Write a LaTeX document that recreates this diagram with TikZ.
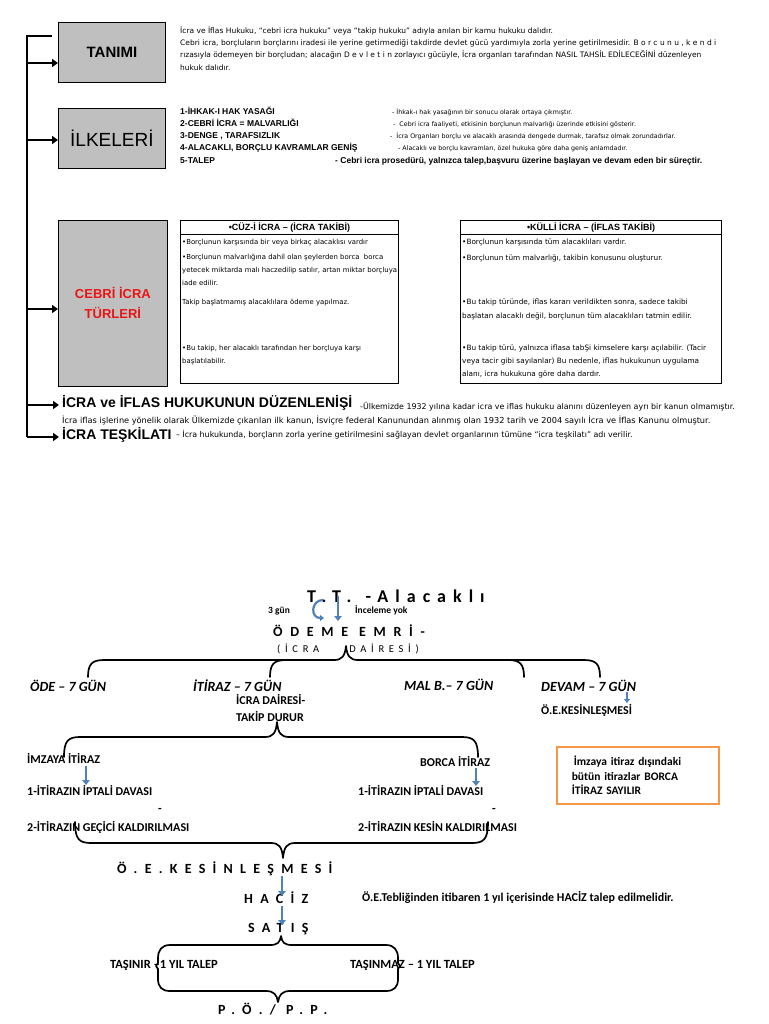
\documentclass[tikz,border=0pt]{standalone}
\usepackage{fontspec}
\setmainfont{Liberation Sans}
\newfontfamily\calfont{Carlito}
\newfontfamily\dvs{DejaVu Sans}
\usetikzlibrary{arrows.meta}
\definecolor{boxgray}{RGB}{191,191,191}
\definecolor{cred}{RGB}{235,20,20}
\definecolor{ablue}{RGB}{79,129,189}
\definecolor{oborder}{RGB}{247,150,70}
\tikzset{
 tx/.style={inner sep=0pt, anchor=mid west, font=\dvs\fontsize{7.5}{8}\selectfont},
 txl/.style={inner sep=0pt, anchor=mid west, font=\dvs\fontsize{7.9}{8}\selectfont},
 txs/.style={inner sep=0pt, anchor=mid west, font=\dvs\fontsize{6.3}{7}\selectfont},
 txb/.style={inner sep=0pt, anchor=mid west, font=\bfseries\fontsize{8.5}{9}\selectfont},
 tb/.style={inner sep=0pt, anchor=mid west, font=\dvs\fontsize{6.9}{8}\selectfont},
 tbr/.style={inner sep=0pt, anchor=mid west, font=\dvs\fontsize{7.3}{8}\selectfont},
 hd/.style={inner sep=0pt, anchor=mid west, font=\bfseries\fontsize{14}{16}\selectfont},
 gbox/.style={draw=black, line width=0.8pt, fill=boxgray, anchor=north west, inner sep=0pt},
 bigarrow/.style={line width=2.6pt, -{Triangle[length=6pt,width=8pt]}},
 cb/.style={inner sep=0pt, anchor=mid west, font=\calfont\bfseries\fontsize{12}{14}\selectfont},
 cbi/.style={inner sep=0pt, anchor=mid west, font=\calfont\bfseries\itshape\fontsize{14}{16}\selectfont},
 sp/.style={inner sep=0pt, anchor=mid west, font=\calfont\bfseries\fontsize{14}{16}\selectfont\addfontfeature{LetterSpace=52}},
 barrow/.style={draw=ablue, line width=2.6pt, -{Triangle[length=5pt,width=7.5pt]}},
 brace/.style={line width=1.7pt, line cap=round, line join=round},
 tabbox/.style={draw=black, line width=1pt, anchor=north west, inner sep=0pt},
}
\begin{document}
\begin{tikzpicture}[x=1pt,y=-1pt]
\useasboundingbox[fill=white] (0,0) rectangle (768,1024);

% ---------- left boxes ----------
\node[gbox, minimum width=107pt, minimum height=60pt, font=\bfseries\fontsize{15}{16}\selectfont] (tanimi) at (58,22) {TANIMI};
\node[gbox, minimum width=107pt, minimum height=60pt, font=\fontsize{19}{20}\selectfont] (ilke) at (58,108) {İLKELERİ};
\node[gbox, minimum width=109pt, minimum height=166pt, align=center, text=cred, font=\bfseries\fontsize{13}{20}\selectfont] (cebri) at (58,220) {CEBRİ İCRA\\TÜRLERİ};

\coordinate (ltop) at (27,36);
\coordinate (ltopend) at (52,36);
\coordinate (lbot) at (27,437);
\draw[line width=2pt] (ltopend) -- (ltop) -- (lbot);
\coordinate (a1) at (27,63);
\coordinate (a2) at (27,140);
\coordinate (a3) at (27,309);
\draw[bigarrow] (a1) -- (a1 -| tanimi.west);
\draw[bigarrow] (a2) -- (a2 -| ilke.west);
\draw[bigarrow] (a3) -- (a3 -| cebri.west);

% ---------- TANIMI text ----------
\node[tx] (d1) at (180,31) {İcra ve İflas Hukuku, “cebri icra hukuku” veya “takip hukuku” adıyla anılan bir kamu hukuku dalıdır.};
\node[tx] (d2) at (180,43) {Cebri icra, borçluların borçlarını iradesi ile yerine getirmediği takdirde devlet gücü yardımıyla zorla yerine getirilmesidir. B o r c u n u , k e n d i};
\node[tx] (d3) at (180,55) {rızasıyla ödemeyen bir borçludan; alacağın D e v l e t i n zorlayıcı gücüyle, İcra organları tarafından NASIL TAHSİL EDİLECEĞİNİ düzenleyen};
\node[tx] (d4) at (180,68) {hukuk dalıdır.};

% ---------- ILKELERI text ----------
\node[txb] (i1) at (180,112) {1-İHKAK-I HAK YASAĞI};
\node[txb] (i2) at (180,124) {2-CEBRİ İCRA = MALVARLIĞI};
\node[txb] (i3) at (180,136) {3-DENGE , TARAFSIZLIK};
\node[txb] (i4) at (180,148) {4-ALACAKLI, BORÇLU KAVRAMLAR GENİŞ};
\node[txb] (i5) at (180,161) {5-TALEP};
\node[txs] (r1) at (392,112) {- İhkak-ı hak yasağının bir sonucu olarak ortaya çıkmıştır.};
\node[txs] (r2) at (393,124) {-\ \ Cebri icra faaliyeti, etkisinin borçlunun malvarlığı üzerinde etkisini gösterir.};
\node[txs] (r3) at (390,136) {-\ \ İcra Organları borçlu ve alacaklı arasında dengede durmak, tarafsız olmak zorundadırlar.};
\node[txs] (r4) at (398,148) {- Alacaklı ve borçlu kavramları, özel hukuka göre daha geniş anlamdadır.};
\node[txb] (r5) at (335,161) {- Cebri icra prosedürü, yalnızca talep,başvuru üzerine başlayan ve devam eden bir süreçtir.};

% ---------- tables ----------
\node[tabbox, minimum width=218pt, minimum height=163pt] (ltab) at (180,220) {};
\node[tabbox, minimum width=218pt, minimum height=14pt, font=\bfseries\fontsize{9}{10}\selectfont] (ltabh) at (180,220) {•CÜZ-İ İCRA – (İCRA TAKİBİ)};
\node[tb] (l1) at (182,242) {•Borçlunun karşısında bir veya birkaç alacaklısı vardır};
\node[tb] (l2) at (182,257) {•Borçlunun malvarlığına dahil olan şeylerden borca\ \ borca};
\node[tb] (l3) at (182,270) {yetecek miktarda malı haczedilip satılır, artan miktar borçluya};
\node[tb] (l4) at (182,283) {iade edilir.};
\node[tb] (l5) at (182,302) {Takip başlatmamış alacaklılara ödeme yapılmaz.};
\node[tb] (l6) at (182,348) {•Bu takip, her alacaklı tarafından her borçluya karşı};
\node[tb] (l7) at (182,361) {başlatılabilir.};

\node[tabbox, minimum width=261pt, minimum height=163pt] (rtab) at (460,220) {};
\node[tabbox, minimum width=261pt, minimum height=14pt, font=\bfseries\fontsize{9}{10}\selectfont] (rtabh) at (460,220) {•KÜLLİ İCRA – (İFLAS TAKİBİ)};
\node[tbr] (k1) at (462,242) {•Borçlunun karşısında tüm alacaklıları vardır.};
\node[tbr] (k2) at (462,258) {•Borçlunun tüm malvarlığı, takibin konusunu oluşturur.};
\node[tbr] (k3) at (462,302) {•Bu takip türünde, iflas kararı verildikten sonra, sadece takibi};
\node[tbr] (k4) at (462,316) {başlatan alacaklı değil, borçlunun tüm alacaklıları tatmin edilir.};
\node[tbr] (k5) at (462,348) {•Bu takip türü, yalnızca iflasa tabŞi kimselere karşı açılabilir. (Tacir};
\node[tbr] (k6) at (462,361) {veya tacir gibi sayılanlar) Bu nedenle, iflas hukukunun uygulama};
\node[tbr] (k7) at (462,374) {alanı, icra hukukuna göre daha dardır.};

% ---------- bottom headings ----------
\node[hd] (h1) at (62,405) {İCRA ve İFLAS HUKUKUNUN DÜZENLENİŞİ};
\node[txl] (h1t) at (360,407) {-Ülkemizde 1932 yılına kadar icra ve iflas hukuku alanını düzenleyen ayrı bir kanun olmamıştır.};
\node[txl, font=\dvs\fontsize{8.2}{9}\selectfont] (h1u) at (62,421) {İcra iflas işlerine yönelik olarak Ülkemizde çıkarılan ilk kanun, İsviçre federal Kanunundan alınmış olan 1932 tarih ve 2004 sayılı İcra ve İflas Kanunu olmuştur.};
\node[hd] (h2) at (62,437) {İCRA TEŞKİLATI};
\node[txl, anchor=mid west] (h2t) at ([xshift=4pt]h2.east) {– İcra hukukunda, borçların zorla yerine getirilmesini sağlayan devlet organlarının tümüne “icra teşkilatı” adı verilir.};
\coordinate (a4) at (27,405);
\coordinate (a5) at (27,437);
\draw[bigarrow, shorten >=3pt] (a4) -- (a4 -| h1.west);
\draw[bigarrow, shorten >=3pt] (a5) -- (a5 -| h2.west);

% ---------- lower diagram ----------
\node[sp, font=\calfont\bfseries\fontsize{18}{20}\selectfont\addfontfeature{LetterSpace=39}] (tt) at (307,600) {T.T.~\hspace{3pt}-Alacaklı};
\node[cb, font=\calfont\bfseries\fontsize{9.5}{10}\selectfont] (g3) at (268,611) {3 gün};
\node[cb, font=\calfont\bfseries\fontsize{9.5}{10}\selectfont] (inc) at (355,611) {İnceleme yok};
\coordinate (b0s) at (338,596);
\coordinate (b0e) at (338,621);
\draw[barrow] (b0s) -- (b0e);
\coordinate (c0s) at (323,600);
\coordinate (c0e) at (324,618);
\draw[draw=ablue, line width=2.2pt, -{Triangle[length=4pt,width=6pt]}] (c0s) .. controls (311,600) and (310,618) .. (c0e);

\node[sp, font=\calfont\bfseries\fontsize{14}{16}\selectfont\addfontfeature{LetterSpace=55}] (odeme) at (273,634) {ÖDEME EMRİ-};
\node[inner sep=0pt, anchor=mid west, font=\calfont\fontsize{10.5}{12}\selectfont\addfontfeature{LetterSpace=45}] (daire) at (277,650) {(İCRA\hspace{30pt}DAİRESİ)};

\draw[brace] (88,677) .. controls (88,664) and (92,660) .. (104,660) -- (334,660) .. controls (342,660) and (345,656) .. (346,646) .. controls (347,656) and (350,660) .. (358,660) -- (584,660) .. controls (596,660) and (600,664) .. (600,677);
\draw[brace] (270,677) .. controls (270,664) and (274,660) .. (286,660);
\draw[brace] (508,660) .. controls (520,660) and (524,664) .. (524,677);

\node[cbi] (ode) at (30,689) {ÖDE – 7 GÜN};
\node[cbi] (itiraz) at (193,689) {İTİRAZ – 7 GÜN};
\node[cbi] (malb) at (404,688) {MAL B.– 7 GÜN};
\node[cbi] (devam) at (541,689) {DEVAM – 7 GÜN};
\node[cb] (icd) at (236,702) {İCRA DAİRESİ-};
\node[cb] (tkd) at (236,719) {TAKİP DURUR};
\node[cb] (oek1) at (541,712) {Ö.E.KESİNLEŞMESİ};
\coordinate (b1s) at (627,692);
\coordinate (b1e) at (627,703);
\draw[draw=ablue, line width=2pt, -{Triangle[length=4pt,width=6pt]}] (b1s) -- (b1e);

\draw[brace] (64,757) .. controls (64,741) and (68,737) .. (80,737) -- (265,737) .. controls (273,737) and (276,733) .. (277,722) .. controls (278,733) and (281,737) .. (289,737) -- (462,737) .. controls (474,737) and (478,741) .. (478,757);

\node[cb] (imz) at (27,761) {İMZAYA İTİRAZ};
\node[cb] (borca) at (420,764) {BORCA İTİRAZ};
\coordinate (b2s) at (86,766);
\coordinate (b2e) at (86,785);
\draw[barrow] (b2s) -- (b2e);
\coordinate (b3s) at (476,768);
\coordinate (b3e) at (476,786);
\draw[barrow] (b3s) -- (b3e);
\node[cb] (ip1) at (27,793) {1-İTİRAZIN İPTALİ DAVASI};
\node[cb] (ip2) at (358,793) {1-İTİRAZIN İPTALİ DAVASI};
\node[cb] (ds1) at (158,810) {-};
\node[cb] (ds2) at (492,810) {-};
\node[cb] (kd1) at (27,829) {2-İTİRAZIN GEÇİCİ KALDIRILMASI};
\node[cb] (kd2) at (358,829) {2-İTİRAZIN KESİN KALDIRILMASI};

\draw[brace] (75,822) .. controls (75,839) and (79,843) .. (91,843) -- (271,843) .. controls (279,843) and (282,847) .. (283,858) .. controls (284,847) and (287,843) .. (295,843) -- (472,843) .. controls (484,843) and (488,839) .. (488,822);

\node[text width=132pt, align=left, anchor=north west, draw=oborder, line width=1.5pt, inner xsep=15pt, inner ysep=0pt, minimum height=57pt, font=\calfont\bfseries\fontsize{11.5}{14.5}\selectfont] (obox) at (556,746) {\hspace{2pt}İmzaya itiraz dışındaki\\bütün itirazlar BORCA\\İTİRAZ SAYILIR};

\node[sp] (oek2) at (117,871) {Ö.E.KESİNLEŞMESİ};
\node[sp] (haciz) at (244,901) {HACİZ};
\node[sp] (satis) at (248,930) {SATIŞ};
\node[cb] (tebl) at (362,899) {Ö.E.Tebliğinden itibaren 1 yıl içerisinde HACİZ talep edilmelidir.};
\coordinate (b4s) at (282,876);
\coordinate (b4e) at (282,896);
\draw[barrow] (b4s) -- (b4e);
\coordinate (b5s) at (282,906);
\coordinate (b5e) at (282,925);
\draw[barrow] (b5s) -- (b5e);

\draw[brace] (281,936) .. controls (282,942) and (284,945) .. (292,945) -- (386,945) .. controls (394,945) and (398,950) .. (398,958) -- (398,963) -- (400,966) -- (398,969) -- (398,979) .. controls (398,987) and (394,991) .. (386,991) -- (290,991) .. controls (282,991) and (279,995) .. (278,1002) .. controls (277,995) and (274,991) .. (266,991) -- (170,991) .. controls (162,991) and (158,987) .. (158,979) -- (158,969) -- (156,966) -- (158,963) -- (158,958) .. controls (158,950) and (162,945) .. (170,945) -- (270,945) .. controls (278,945) and (280,942) .. (281,936);

\node[cb, font=\calfont\bfseries\fontsize{12.5}{14}\selectfont] (tas1) at (110,966) {TAŞINIR –1 YIL TALEP};
\node[cb, font=\calfont\bfseries\fontsize{12.5}{14}\selectfont] (tas2) at (350,966) {TAŞINMAZ – 1 YIL TALEP};
\node[sp] (pop) at (218,1012) {P.Ö./~P.P.};
\end{tikzpicture}
\end{document}
